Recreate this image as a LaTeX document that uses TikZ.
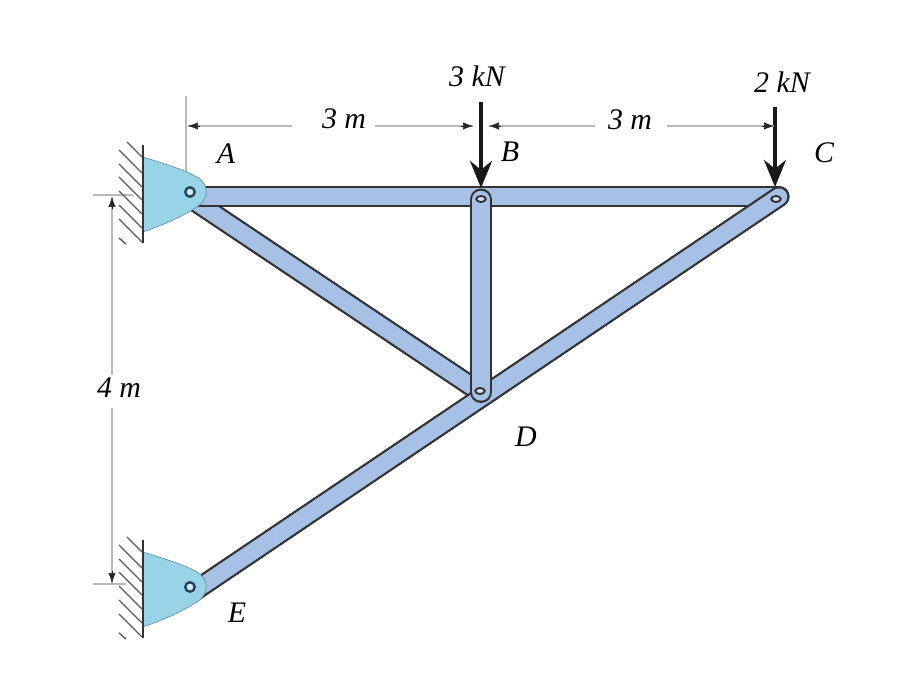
\documentclass[tikz,border=0pt]{standalone}
\usepackage{fontspec}
\setmainfont{Liberation Serif}
\usepackage{tikz}
\usetikzlibrary{shapes,arrows.meta,positioning}
\definecolor{barblue}{RGB}{167,192,229}
\definecolor{supportblue}{RGB}{152,212,232}
\definecolor{dimgrey}{RGB}{185,185,185}
\definecolor{pinring}{RGB}{35,60,85}
\tikzset{
	barout/.style={line width=0.42cm, line cap=round, black!80},
	barin/.style={line width=0.33cm, line cap=round, barblue},
	support/.style={fill=supportblue, draw=supportblue!70!black, line width=0.4pt},
	wall/.style={line width=1.7pt, black!80},
	hatchline/.style={line width=0.8pt, black!65},
	dimline/.style={line width=0.9pt, dimgrey},
	dimtip/.style={{Latex[length=0.2cm,width=0.15cm,black!85]}-},
	force/.style={line width=2.3pt, -{Stealth[length=0.54cm,width=0.44cm]}, black!90},
	pinround/.style={circle, draw=pinring, line width=1.3pt, fill=supportblue!50, minimum size=0.19cm, inner sep=0pt},
	pinoval/.style={ellipse, draw=black!85, line width=1pt, fill=barblue!50, minimum width=0.19cm, minimum height=0.12cm, inner sep=0pt},
	lab/.style={font=\fontsize{17}{20}\selectfont\itshape, inner sep=0pt}
}
\begin{document}
\begin{tikzpicture}[x=0.02cm,y=-0.02cm]
	\useasboundingbox (0,0) rectangle (910,682);
	\coordinate (A) at (190,192);
	\coordinate (B) at (481,199);
	\coordinate (C) at (776,199);
	\coordinate (D) at (480,391);
	\coordinate (E) at (190,587);
	% bar ends
	\coordinate (Adiag) at (190,198);
	\coordinate (Ddiag) at (480,392);
	\coordinate (Ahor) at (190,196.5);
	\coordinate (Chor) at (779,196.5);
	\coordinate (Ediag) at (190,594);
	\coordinate (Cdiag) at (779,196.7);
	\coordinate (Btop) at (481,199.5);
	\coordinate (Dlow) at (481,392);
	% dimensions behind the supports
	\coordinate (extAtop) at (186,96);
	\coordinate (extAbot) at (186,181);
	\draw [dimline] (extAtop) -- (extAbot);
	\coordinate (extTl) at (93,195);
	\coordinate (extTr) at (133,195);
	\coordinate (extLl) at (93,584);
	\coordinate (extLr) at (126,584);
	\draw [dimline] (extTl) -- (extTr);
	\draw [dimline] (extLl) -- (extLr);
	% bars
	\draw [barout] (Adiag) -- (Ddiag);
	\draw [barin] (Adiag) -- (Ddiag);
	\draw [barout] (Ahor) -- (Chor);
	\draw [barin] (Ahor) -- (Chor);
	\draw [barout] (Ediag) -- (Cdiag);
	\draw [barin] (Ediag) -- (Cdiag);
	\draw [barout, line width=0.44cm] (Btop) -- (Dlow);
	\draw [barin, line width=0.35cm] (Btop) -- (Dlow);
	% supports
	\foreach \pt in {A,E} {
		\begin{scope}[shift={(\pt)}]
			\draw [support] (-47,-35) .. controls (-25,-28) and (-5,-22) .. (5,-16)
				.. controls (20,-9) and (20,8) .. (5,16)
				.. controls (-10,26) and (-30,34) .. (-47,40) -- cycle;
			\draw [wall] (-47,-47) -- (-47,51);
			\draw [hatchline] (-63,-50) -- (-48,-35);
			\foreach \yy in {-42,-28,-15,-1,13,27} {
				\draw [hatchline] (-71,\yy) -- (-48,\yy+23);
			}
			\draw [hatchline] (-71,46) -- (-64,52);
		\end{scope}
	}
	% pins
	\node [pinround] (pinA) at (A) {};
	\node [pinround] (pinE) at (E) {};
	\node [pinoval] (pinB) at (B) {};
	\node [pinoval] (pinC) at (C) {};
	\node [pinoval] (pinD) at (D) {};
	% loads
	\coordinate (loadB) at (481,102);
	\coordinate (tipB) at (481,188);
	\coordinate (loadC) at (775,107);
	\coordinate (tipC) at (775,187);
	\draw [force] (loadB) -- (tipB);
	\draw [force] (loadC) -- (tipC);
	\node [lab] (labelB) at (477,76) {3 kN};
	\node [lab] (labelC) at (782,82) {2 kN};
	% dimensions
	\coordinate (dimA) at (188,126);
	\coordinate (dimAend) at (292,126);
	\coordinate (dimBlstart) at (375,126);
	\coordinate (dimBl) at (473,126);
	\coordinate (dimBr) at (489,126);
	\coordinate (dimBrend) at (595,126);
	\coordinate (dimCstart) at (667,126);
	\coordinate (dimC) at (774,126);
	\draw [dimline] (dimAend) -- (dimA);
	\draw [dimline] (dimBlstart) -- (dimBl);
	\draw [dimline] (dimBrend) -- (dimBr);
	\draw [dimline] (dimCstart) -- (dimC);
	\draw [dimtip] (dimA) -- ++(12,0);
	\draw [dimtip] (dimBl) -- ++(-12,0);
	\draw [dimtip] (dimBr) -- ++(12,0);
	\draw [dimtip] (dimC) -- ++(-12,0);
	\node [lab] (spanAB) at (344,119) {3 m};
	\node [lab] (spanBC) at (630,120) {3 m};
	\coordinate (dimTop) at (112,197);
	\coordinate (dimTopend) at (112,375);
	\coordinate (dimLowstart) at (112,408);
	\coordinate (dimLow) at (112,583);
	\draw [dimline] (dimTopend) -- (dimTop);
	\draw [dimline] (dimLowstart) -- (dimLow);
	\draw [dimtip] (dimTop) -- ++(0,12);
	\draw [dimtip] (dimLow) -- ++(0,-12);
	\node [lab] (spanAE) at (119,388) {4 m};
	% joint names
	\node [lab] (nameA) at (226,154) {A};
	\node [lab] (nameB) at (510,152) {B};
	\node [lab] (nameC) at (824,153) {C};
	\node [lab] (nameD) at (526,437) {D};
	\node [lab] (nameE) at (237,613) {E};
\end{tikzpicture}
\end{document}
